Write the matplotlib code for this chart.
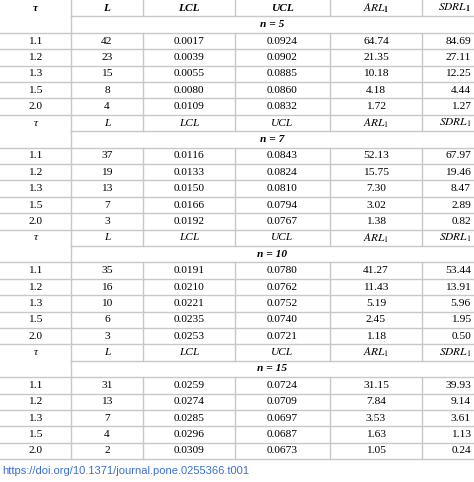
import matplotlib.pyplot as plt

tau = ["1.1", "1.2", "1.3", "1.5", "2.0"]
sample_sizes = [5, 7, 10, 15]
L_vals = [[42, 23, 15, 8, 4], [37, 19, 13, 7, 3], [35, 16, 10, 6, 3], [31, 13, 7, 4, 2]]
lcl = [["0.0017", "0.0039", "0.0055", "0.0080", "0.0109"],
       ["0.0116", "0.0133", "0.0150", "0.0166", "0.0192"],
       ["0.0191", "0.0210", "0.0221", "0.0235", "0.0253"],
       ["0.0259", "0.0274", "0.0285", "0.0296", "0.0309"]]
ucl = [["0.0924", "0.0902", "0.0885", "0.0860", "0.0832"],
       ["0.0843", "0.0824", "0.0810", "0.0794", "0.0767"],
       ["0.0780", "0.0762", "0.0752", "0.0740", "0.0721"],
       ["0.0724", "0.0709", "0.0697", "0.0687", "0.0673"]]
arl = [["64.74", "21.35", "10.18", "4.18", "1.72"],
       ["52.13", "15.75", "7.30", "3.02", "1.38"],
       ["41.27", "11.43", "5.19", "2.45", "1.18"],
       ["31.15", "7.84", "3.53", "1.63", "1.05"]]
sdrl = [["84.69", "27.11", "12.25", "4.44", "1.27"],
        ["67.97", "19.46", "8.47", "2.89", "0.82"],
        ["53.44", "13.91", "5.96", "1.95", "0.50"],
        ["39.93", "9.14", "3.61", "1.13", "0.24"]]
headers = ["τ", "L", "LCL", "UCL", "ARL$_1$", "SDRL$_1$"]

W, H = 474, 482
cols = [0, 71, 143, 235, 330, 422, 474]
rh = 16.4
line_c = "#c8c8c8"
font = "Liberation Serif"
fs = 8.2

plt.rcParams["mathtext.fontset"] = "stix"
fig = plt.figure(figsize=(W / 100, H / 100), dpi=100)
ax = fig.add_axes([0, 0, 1, 1])
ax.set_xlim(0, W)
ax.set_ylim(H, 0)
ax.axis("off")


def cell_text(c, r, s, **kw):
    y = (r + 0.5) * rh
    if c == 5:
        ax.text(cols[6] - 3, y, s, ha="right", va="center", fontsize=fs, family=font, **kw)
    else:
        ax.text((cols[c] + cols[c + 1]) / 2, y, s, ha="center", va="center",
                fontsize=fs, family=font, **kw)


def vlines(r):
    for c in range(1, 6):
        ax.plot([cols[c]] * 2, [r * rh, (r + 1) * rh], color=line_c, lw=1)


row = 0
for k, n in enumerate(sample_sizes):
    bold = "bold" if k == 0 else "normal"
    for c, h in enumerate(headers):
        if "$" in h:
            h = h.replace("$_1$", "")
            h = (r"$\mathbf{\mathit{" + h + r"}}_\mathbf{1}$") if k == 0 else (r"$\mathit{" + h + r"}_1$")
        cell_text(c, row, h, style="italic", weight=bold)
    ax.text((cols[1] + cols[6]) / 2, (row + 1.5) * rh, f"n = {n}", ha="center",
            va="center", fontsize=fs, family=font, style="italic", weight="bold")
    vlines(row)
    ax.plot([cols[1], W], [(row + 1) * rh] * 2, color=line_c, lw=1)
    ax.plot([cols[1]] * 2, [(row + 1) * rh, (row + 2) * rh], color=line_c, lw=1)
    ax.plot([0, W], [(row + 2) * rh] * 2, color=line_c, lw=1)
    row += 2
    for i in range(len(tau)):
        vals = [tau[i], str(L_vals[k][i]), lcl[k][i], ucl[k][i], arl[k][i], sdrl[k][i]]
        for c, v in enumerate(vals):
            cell_text(c, row, v)
        vlines(row)
        ax.plot([0, W], [(row + 1) * rh] * 2, color=line_c, lw=1)
        row += 1

ax.text(2, row * rh + 12, "https://doi.org/10.1371/journal.pone.0255366.t001",
        ha="left", va="center", fontsize=8, color="#3a6fd8", family="Liberation Sans")

fig.savefig("out.png", dpi=100)
